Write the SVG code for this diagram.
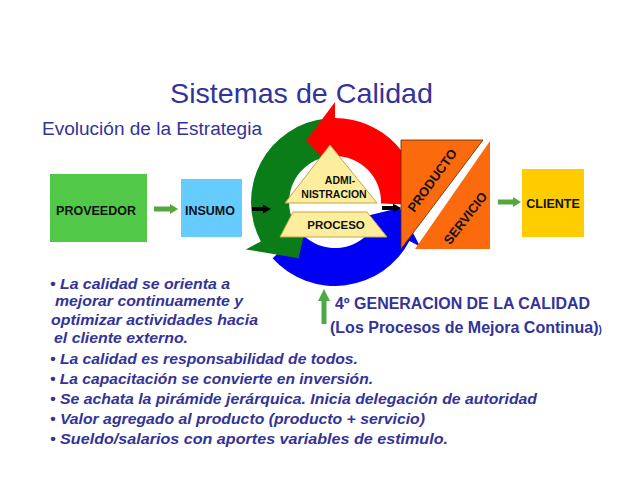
<svg xmlns="http://www.w3.org/2000/svg" width="638" height="493" viewBox="0 0 638 493">
<defs>
<style>
.ttl{font-family:"Liberation Sans",Arial,sans-serif;fill:#333399}
.lbl{font-family:"Liberation Sans",Arial,sans-serif;font-weight:bold;fill:#111}
.bul{font-family:"Liberation Sans",Arial,sans-serif;font-weight:bold;font-style:italic;font-size:15.5px;fill:#333399}
.gen{font-family:"Liberation Sans",Arial,sans-serif;font-weight:bold;font-size:16px;fill:#333399}
.tri{fill:#fdee9e;stroke:#c9a24a;stroke-width:1}
.garr{fill:#52a83a}
.karr{fill:#000}
</style>
</defs>
<rect width="638" height="493" fill="#fff"/>
<text class="ttl" x="170" y="103" font-size="28.5" textLength="263" lengthAdjust="spacingAndGlyphs">Sistemas de Calidad</text>
<text class="ttl" x="42" y="135" font-size="18" textLength="220" lengthAdjust="spacingAndGlyphs">Evolución de la Estrategia</text>

<g id="node-proveedor">
<rect x="50" y="174" width="97" height="68" fill="#52c848"/>
<text class="lbl" x="96" y="214.5" font-size="12.5" text-anchor="middle">PROVEEDOR</text>
</g>
<g id="node-insumo">
<rect x="181" y="179" width="61" height="58" fill="#66ccff"/>
<text class="lbl" x="210" y="214.5" font-size="12.5" text-anchor="middle">INSUMO</text>
</g>

<g id="node-ciclo">
<path fill="#0000f5" d="M272.6,258.2 A84,84 0 0 0 409.4,240.9 L420.1,246.5 L399.8,207.7 L363.4,216.8 L375.8,223.3 A46,46 0 0 1 300.8,232.8 Z"/>
<path fill="#0a7d18" d="M326.2,118.5 A84,84 0 0 0 260.8,241.4 L245.8,249.4 L298.5,258.2 L308.5,216.1 L294.4,223.6 A46,46 0 0 1 330.2,156.3 Z"/>
<path fill="#ff0000" d="M418.9,204.9 A84,84 0 0 0 335,118 L335,102 L306.3,140.4 L335,172 L335,156 A46,46 0 0 1 381,203.6 Z"/>
<polygon class="tri" points="330,145 377,203 285,203"/>
<text class="lbl" x="340" y="184" font-size="10.5" text-anchor="middle">ADMI-</text>
<text class="lbl" x="334" y="198" font-size="10.5" text-anchor="middle">NISTRACION</text>
<polygon class="tri" points="293,212 367,212 387,237 280,237"/>
<text class="lbl" x="336" y="228.5" font-size="11.5" text-anchor="middle">PROCESO</text>
</g>

<g id="node-producto-servicio">
<polygon points="401,140 483,140 401,249" fill="#fb6a0c" stroke="#5a2a08" stroke-width="0.8"/>
<polygon points="490,141 490,249 415,249" fill="#fb6a0c"/>
<text class="lbl" x="0" y="0" font-size="13" text-anchor="middle" transform="translate(436,183) rotate(-54)">PRODUCTO</text>
<text class="lbl" x="0" y="0" font-size="13" text-anchor="middle" transform="translate(469,221) rotate(-52)">SERVICIO</text>
</g>

<g id="node-cliente">
<rect x="522" y="169" width="62" height="68" fill="#ffcc00"/>
<text class="lbl" x="553" y="207.5" font-size="12.5" text-anchor="middle">CLIENTE</text>
</g>

<g id="connectors">
<polygon class="garr" points="154,206.5 170,206.5 170,204 178,209 170,214 170,211.5 154,211.5"/>
<polygon class="karr" points="252,207 263,207 263,204.5 271,209 263,213.5 263,211 252,211"/>
<polygon class="karr" points="382,206 393,206 393,203.5 401,208 393,212.5 393,210 382,210"/>
<polygon class="garr" points="498,199.5 513,199.5 513,197 521,202 513,207 513,204.5 498,204.5"/>
<polygon fill="#4caa44" points="324,289 330,301 326.5,301 326.5,324 321.5,324 321.5,301 318,301"/>
</g>

<g id="generacion">
<text class="gen" x="335" y="309" textLength="255" lengthAdjust="spacingAndGlyphs">4º GENERACION DE LA CALIDAD</text>
<text class="gen" x="330" y="333" font-size="15.7">(Los Procesos de Mejora Continua)<tspan font-size="10">)</tspan></text>
</g>

<g id="bullets">
<text class="bul" x="50" y="289" textLength="180" lengthAdjust="spacingAndGlyphs">• La calidad se orienta a</text>
<text class="bul" x="55" y="306" textLength="188" lengthAdjust="spacingAndGlyphs">mejorar continuamente y</text>
<text class="bul" x="51" y="325" textLength="207" lengthAdjust="spacingAndGlyphs">optimizar actividades hacia</text>
<text class="bul" x="54" y="343" textLength="134" lengthAdjust="spacingAndGlyphs">el cliente externo.</text>
<text class="bul" x="50" y="364" textLength="308" lengthAdjust="spacingAndGlyphs">• La calidad es responsabilidad de todos.</text>
<text class="bul" x="50" y="384" textLength="323" lengthAdjust="spacingAndGlyphs">• La capacitación se convierte en inversión.</text>
<text class="bul" x="50" y="404" textLength="487" lengthAdjust="spacingAndGlyphs">• Se achata la pirámide jerárquica. Inicia delegación de autoridad</text>
<text class="bul" x="50" y="424" textLength="375" lengthAdjust="spacingAndGlyphs">• Valor agregado al producto (producto + servicio)</text>
<text class="bul" x="50" y="444" textLength="398" lengthAdjust="spacingAndGlyphs">• Sueldo/salarios con aportes variables de estimulo.</text>
</g>
</svg>
